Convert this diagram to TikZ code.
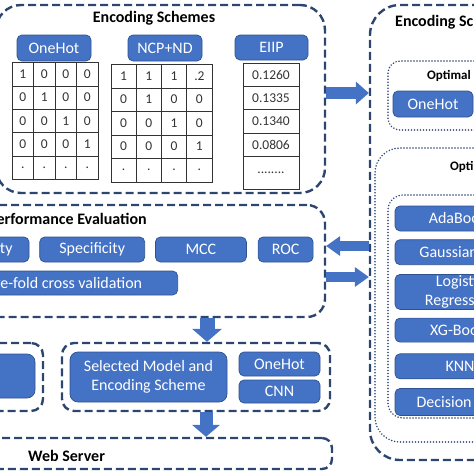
\documentclass[tikz,border=0pt]{standalone}
\usepackage{fontspec}
\setmainfont{Carlito}
\usepackage{tikz}
\usetikzlibrary{arrows.meta, positioning}

\definecolor{boxblue}{HTML}{4472C4}
\definecolor{edgeblue}{HTML}{2F528F}
\definecolor{linenavy}{HTML}{2C4670}

\begin{document}
\begin{tikzpicture}[x=1pt, y=-1pt,
    blk/.style={fill=boxblue, draw=edgeblue, line width=0.7pt, rounded corners=5pt, text=white,
                font=\fontsize{16}{19.5}\selectfont, inner sep=0pt, align=center},
    grp/.style={draw=linenavy, line width=2.4pt, dash pattern=on 8pt off 4pt, rounded corners=#1, inner sep=0pt},
    grp/.default=14pt,
    dgrp/.style={draw=linenavy, line width=1.7pt, dash pattern=on 0pt off 3pt, line cap=round, rounded corners=#1, inner sep=0pt},
    dgrp/.default=14pt,
    cell/.style={draw=black!80, line width=0.6pt, inner sep=0pt, text=black!80, font=\fontsize{13.5}{16}\selectfont},
    ttl/.style={font=\bfseries\fontsize{16}{19}\selectfont, inner sep=0pt},
    sttl/.style={font=\bfseries\fontsize{13}{16}\selectfont, inner sep=0pt},
    fat/.style={draw=boxblue, line cap=butt}]
  \useasboundingbox (0,0) rectangle (474,474);
  \clip (0,0) rectangle (474,474);

  % group frames
  \node[grp=25pt, minimum width=329pt, minimum height=188pt] (encbox) at (160.5,99) {};
  \node[grp=30pt, minimum width=200pt, minimum height=455pt] (rightbox) at (470,232.5) {};
  \node[dgrp=12pt, minimum width=182pt, minimum height=69pt] (optenc) at (479,95.5) {};
  \node[dgrp=25pt, minimum width=195pt, minimum height=294pt] (optmod) at (472.5,295) {};
  \node[dgrp=15pt, minimum width=182pt, minimum height=223pt] (modgrp) at (479,306.5) {};
  \node[grp=18pt, minimum width=365pt, minimum height=112pt] (perfbox) at (142.5,261) {};
  \node[grp=12pt, minimum width=103pt, minimum height=68pt] (leftbox) at (-8.5,377) {};
  \node[grp=12pt, minimum width=268pt, minimum height=68pt] (selbox) at (196,377) {};
  \node[grp=10pt, minimum width=372pt, minimum height=31pt] (webbox) at (146,453.5) {};

  % encoding schemes
  \node[ttl] (enctitle) at (154,18) {Encoding Schemes};
  \node[blk, minimum width=74pt, minimum height=26pt] (ohhead) at (54,48) {OneHot};
  \node[blk, minimum width=74pt, minimum height=26pt] (ncphead) at (165,48) {NCP+ND};
  \node[blk, minimum width=73pt, minimum height=25pt] (eiiphead) at (271.5,47.5) {EIIP};

  \foreach \row [count=\i] in {{1,0,0,0},{0,1,0,0},{0,0,1,0},{0,0,0,1},{.,.,.,.}}
    \foreach \v [count=\j] in \row
      \node[cell, minimum width=21.5pt, minimum height=23.3pt] (oh-\i-\j)
        at (12+21.5*\j-10.75, 62.7+23.3*\i-11.65) {\v};

  \foreach \row [count=\i] in {{1,1,1,.2},{0,1,0,0},{0,0,1,0},{0,0,0,1},{.,.,.,.}}
    \foreach \v [count=\j] in \row
      \node[cell, minimum width=25.25pt, minimum height=23.5pt] (ncp-\i-\j)
        at (111+25.25*\j-12.625, 64.3+23.5*\i-11.75) {\v};

  \foreach \v [count=\i] in {0.1260,0.1335,0.1340,0.0806}
    \node[cell, minimum width=56pt, minimum height=23.2pt] (eiip-\i)
      at (271,63.3+23.2*\i-11.6) {\v};
  \node[cell, minimum width=56pt, minimum height=33.5pt] (eiip-5) at (271,173) {........};

  % model selection column
  \node[ttl, anchor=west] (righttitle) at (395,22) {Encoding Scheme};
  \node[sttl, anchor=west] (optenctitle) at (427,76) {Optimal Encoding};
  \node[blk, minimum width=80pt, minimum height=26pt] (ohbest) at (433,104) {OneHot};
  \node[sttl, anchor=west] (optmodtitle) at (450,167) {Optimal Model};

  \node[blk, minimum width=130pt, minimum height=25pt] (ada) at (460,218.5) {AdaBoost};
  \node[blk, minimum width=130pt, minimum height=25pt, below=8pt of ada] (gauss) {Gaussian NB};
  \node[blk, minimum width=130pt, minimum height=35pt, below=9pt of gauss] (logit) {Logistic\\Regression};
  \node[blk, minimum width=130pt, minimum height=24pt, below=8pt of logit] (xgb) {XG-Boost};
  \node[blk, minimum width=130pt, minimum height=25pt, below=11pt of xgb] (knn) {KNN};
  \node[blk, minimum width=130pt, minimum height=27pt, below=9pt of knn] (dtree) {Decision Tree};

  % performance evaluation
  \node[ttl, anchor=east] (perftitle) at (147,219) {Performance Evaluation};
  \node[blk, minimum width=99pt, minimum height=25pt] (sens) at (-20.5,249.5) {Sensitivity};
  \node[blk, minimum width=105pt, minimum height=25pt, right=10pt of sens] (spec) {Specificity};
  \node[blk, minimum width=91pt, minimum height=25pt, right=10pt of spec] (mcc) {MCC};
  \node[blk, minimum width=55pt, minimum height=25pt, right=11pt of mcc] (roc) {ROC};
  \node[blk, inner xsep=35.5pt, minimum height=24pt, anchor=east] (cv) at (178,283) {Five-fold cross validation};

  % selected model
  \node[blk, rounded corners=8pt, minimum width=95pt, minimum height=44pt] (leftinner) at (-12.5,376) {};
  \node[blk, rounded corners=8pt, minimum width=157pt, minimum height=50pt] (selinner) at (148.5,377)
    {Selected Model and\\Encoding Scheme};
  \node[blk, minimum width=81pt, minimum height=24pt] (ohsel) at (279.5,364) {OneHot};
  \node[blk, minimum width=81pt, minimum height=23pt] (cnnsel) at (279.5,391.5) {CNN};

  \node[ttl, anchor=west] (webtitle) at (28,456) {Web Server};

  % block arrows
  \draw[fat, line width=12pt, -{Triangle[length=13pt, width=23pt, line width=0pt]}]
    ([yshift=6pt]encbox.east) -- ([yshift=6pt]encbox.east -| rightbox.west);
  \draw[fat, line width=9.5pt, -{Triangle[length=14pt, width=20pt, line width=0pt]}]
    ([yshift=15pt]perfbox.east -| rightbox.west) -- ([yshift=15pt]perfbox.east);
  \draw[fat, line width=9.5pt, -{Triangle[length=14pt, width=20pt, line width=0pt]}]
    ([yshift=-16pt]perfbox.east) -- ([yshift=-16pt]perfbox.east -| rightbox.west);
  \draw[fat, line width=15pt, -{Triangle[length=13pt, width=30pt, line width=0pt]}]
    ([xshift=11pt]selbox.north |- perfbox.south) -- ([xshift=11pt]selbox.north);
  \draw[fat, line width=13pt, -{Triangle[length=12pt, width=28pt, line width=0pt]}]
    ([xshift=10pt]selbox.south) -- ([xshift=10pt]selbox.south |- webbox.north);
\end{tikzpicture}
\end{document}
